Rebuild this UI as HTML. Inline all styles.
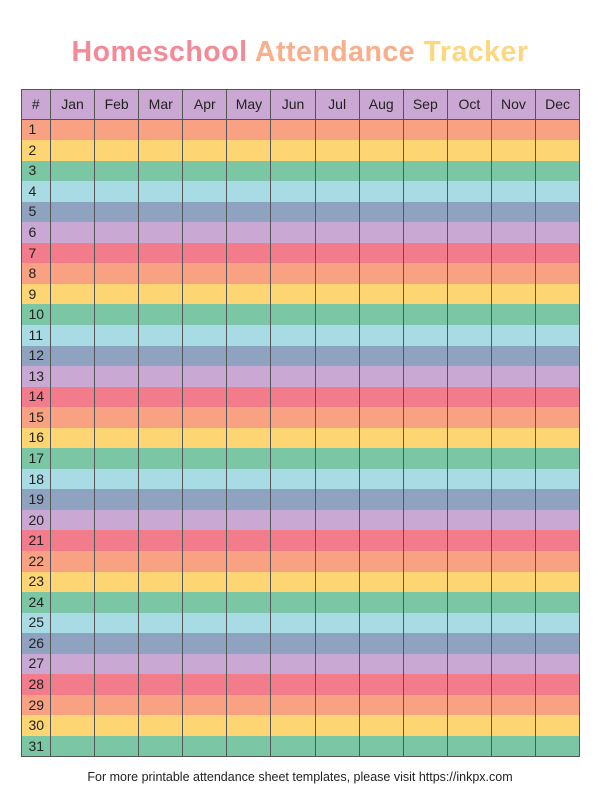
<!DOCTYPE html>
<html><head><meta charset="utf-8"><style>
body{margin:0;width:600px;height:800px;background:#fff;position:relative;font-family:"Liberation Sans",sans-serif;}
.title{position:absolute;top:36px;left:0;width:600px;text-align:center;font-size:28.5px;font-weight:bold;letter-spacing:0.5px;}
table{position:absolute;left:20.5px;top:88.5px;border-collapse:collapse;table-layout:fixed;}
td,th{border-left:1.2px solid #555;border-right:1.2px solid #555;padding:0;font-weight:normal;font-size:14px;color:#222;}
th{height:29px;background:#CBA8D4;border:1.2px solid #555;}
td{height:20.55px;line-height:19px;}
td:first-child{padding-left:7px;font-size:14px;}
tr:last-child td{border-bottom:1.5px solid #555;}
.foot{position:absolute;top:770px;left:0;width:600px;text-align:center;font-size:12.5px;color:#222;}
</style></head><body>
<div class="title"><span style="color:#F48A98">Homeschool</span> <span style="color:#F9AE8C">Attendance</span> <span style="color:#FDD780">Tracker</span></div>
<table id="t">
<colgroup><col style="width:29.5px"><col span="12" style="width:44.1px"></colgroup>
<tr><th>#</th><th>Jan</th><th>Feb</th><th>Mar</th><th>Apr</th><th>May</th><th>Jun</th><th>Jul</th><th>Aug</th><th>Sep</th><th>Oct</th><th>Nov</th><th>Dec</th></tr>
</table>
<div class="foot">For more printable attendance sheet templates, please visit https://inkpx.com</div>
<script>
var c=["#F9A283","#FDD573","#7BC6A4","#A9DBE5","#8FA2C0","#C9A8D3","#F27B8C"];
var t=document.getElementById("t"),h="";
for(var i=1;i<=31;i++){h+='<tr style="background:'+c[(i-1)%7]+'"><td>'+i+'</td>'+'<td></td>'.repeat(12)+'</tr>';}
t.insertAdjacentHTML("beforeend",h);
</script>
</body></html>
